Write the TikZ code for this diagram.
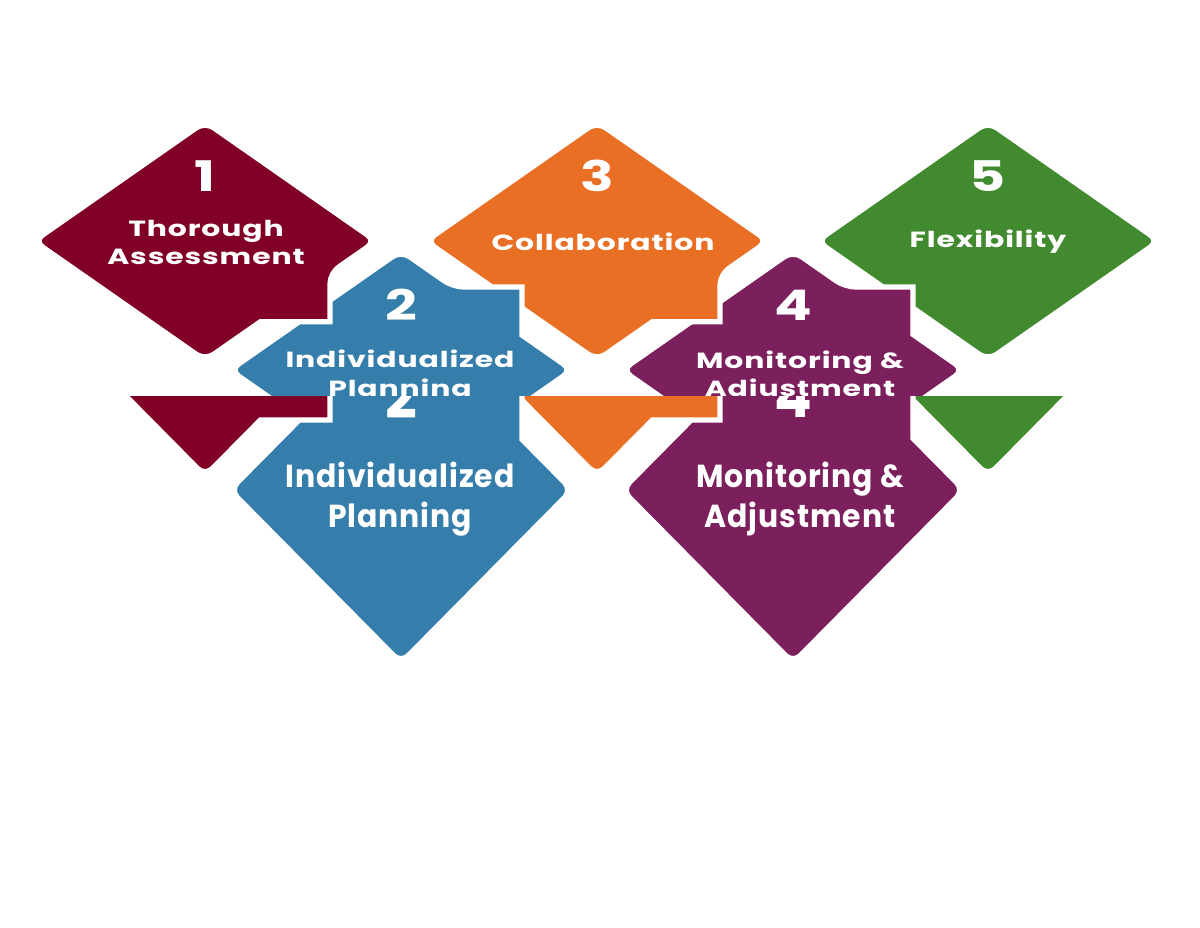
\documentclass[tikz,border=0pt]{standalone}
\usepackage{fontspec}
\newfontfamily\stepfont{Poppins}[LetterSpace=3]
\definecolor{stepmaroon}{RGB}{128,0,38}
\definecolor{steporange}{RGB}{232,111,36}
\definecolor{stepgreen}{RGB}{66,138,47}
\definecolor{stepblue}{RGB}{53,125,170}
\definecolor{steppurple}{RGB}{123,32,92}
\tikzset{
  stepshape/.style={draw=white, line width=3pt},
  stepnum/.style={text=white, inner sep=0pt, xscale=1.32, yscale=1.45,
    font=\stepfont\bfseries\fontsize{24}{24}\selectfont},
  steplbl/.style={text=white, inner sep=0pt, align=center, xscale=1.36, yscale=1.45,
    font=\stepfont\bfseries\fontsize{12.5}{16}\selectfont}
}
\newcommand{\drawshapes}{%
  \fill [stepshape, fill=stepgreen] (902.5,216.5) [rounded corners=6pt] -- (988,130) -- (1159,303)
    -- (988,476) -- (817,303) -- cycle;
  \fill [stepshape, fill=steppurple] (707.5,403.5) [rounded corners=6pt] -- (793,317)
    -- (845,369.6) [sharp corners] -- (913,369.6) -- (913,438.4) [rounded corners=6pt]
    -- (964,490) -- (793,663) -- (622,490) -- cycle;
  \fill [stepshape, fill=steporange] (511.5,216.5) [rounded corners=6pt] -- (597,130) -- (768,303)
    -- (720,351.6) [sharp corners] -- (720,420) -- (652.4,420) [rounded corners=6pt]
    -- (597,476) -- (426,303) -- cycle;
  \fill [stepshape, fill=stepblue] (315.5,403.5) [rounded corners=6pt] -- (401,317)
    -- (453,369.6) [sharp corners] -- (522,369.6) -- (522,439.4) [rounded corners=6pt]
    -- (572,490) -- (401,663) -- (230,490) -- cycle;
  \fill [stepshape, fill=stepmaroon] (119.5,216.5) [rounded corners=6pt] -- (205,130) -- (376,303)
    -- (330,349.5) [sharp corners] -- (330,420) -- (260.4,420) [rounded corners=6pt]
    -- (205,476) -- (34,303) -- cycle;
}
\newcommand{\drawrowa}[1]{%
  \node [stepnum] (#1num1) at (205,208.7) {1};
  \node [steplbl] (#1lbl1) at (206,304.4) {Thorough\\Assessment};
  \node [stepnum] (#1num3) at (597,208.7) {3};
  \node [steplbl] (#1lbl3) at (603,304.4) {Collaboration};
  \node [stepnum] (#1num5) at (988,208.7) {5};
  \node [steplbl] (#1lbl5) at (988,304.4) {Flexibility};
}
\newcommand{\drawrowb}[1]{%
  \node [stepnum] (#1num2) at (401,395.8) {2};
  \node [steplbl] (#1lbl2) at (400,499) {Individualized\\Planning};
  \node [stepnum] (#1num4) at (793,395.8) {4};
  \node [steplbl] (#1lbl4) at (800,499) {Monitoring \&\\Adjustment};
}
\begin{document}
\begin{tikzpicture}[x=0.02cm, y=-0.02cm]
  \useasboundingbox (0,0) rectangle (1200,927);
  \fill [white] (0,0) rectangle (1200,927);
  \begin{scope}
    \clip (0,0) rectangle (1200,396);
    \begin{scope}[shift={(0,32.07)}, yscale=0.6897, transform shape]
      \drawshapes
      \drawrowa{up}
      \drawrowb{up}
    \end{scope}
  \end{scope}
  \begin{scope}
    \clip (0,396) rectangle (1200,927);
    \begin{scope}[transform shape]
      \drawshapes
      \drawrowb{low}
    \end{scope}
  \end{scope}
\end{tikzpicture}
\end{document}
